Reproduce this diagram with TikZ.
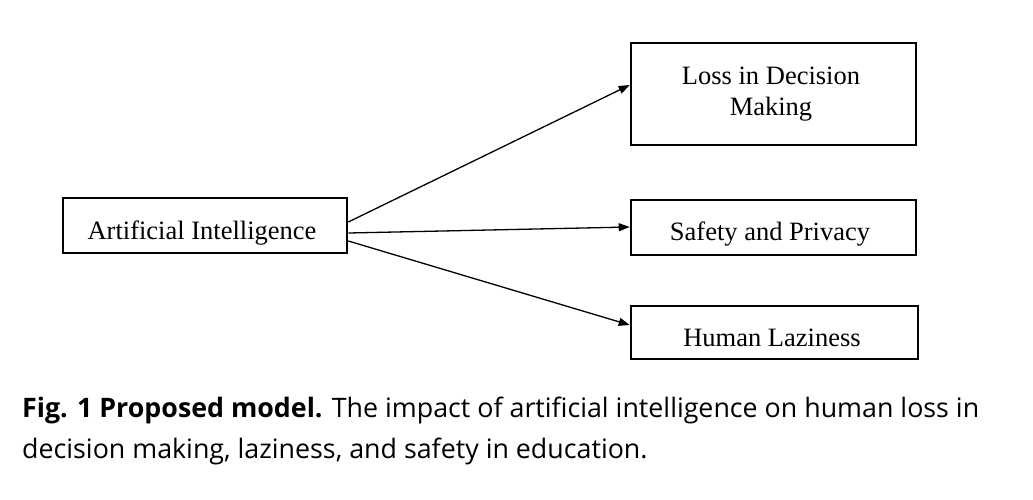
\documentclass[tikz,border=0pt]{standalone}
\usepackage{fontspec}
\setmainfont{Liberation Serif}
\newfontfamily\capfont{Open Sans}
\usetikzlibrary{arrows.meta}
\begin{document}
\begin{tikzpicture}[x=1pt,y=-1pt,
  box/.style={draw,line width=2.6pt,font=\fontsize{26.5}{31}\selectfont,align=center,inner sep=0pt,text depth=0pt},
  arr/.style={line width=1.3pt,-{Triangle[length=11pt,width=8pt]}}]
\useasboundingbox (0,0) rectangle (1033,499);
\node[box,minimum width=284pt,minimum height=55pt] (ai) at (205,225.5) {};
\node[font=\fontsize{26.5}{31}\selectfont] at (202,233) {Artificial Intelligence};
\node[box,minimum width=285pt,minimum height=102pt] (loss) at (773.5,94) {};
\node[font=\fontsize{26.5}{31}\selectfont,align=center] at (771,94) {Loss in Decision\\Making};
\node[box,minimum width=285pt,minimum height=55pt] (safe) at (773.5,227.5) {};
\node[font=\fontsize{26.5}{31}\selectfont] at (770,234) {Safety and Privacy};
\node[box,minimum width=287pt,minimum height=53pt] (lazy) at (774.5,332.5) {};
\node[font=\fontsize{26.5}{31}\selectfont] at (772,338) {Human Laziness};
\draw[arr] (ai.east |- 0,222) -- (loss.west |- 0,85);
\draw[arr] (ai.east |- 0,233) -- (safe.west |- 0,227);
\draw[arr] (ai.east |- 0,241) -- (lazy.west |- 0,325);
\node[anchor=west,inner sep=0pt,font=\capfont\fontsize{26.8}{41}\selectfont,align=left] (cap) at (22,431)
 {\textbf{Fig. 1 Proposed model.} The impact of artificial intelligence on human loss in\\decision making, laziness, and safety in education.};
\end{tikzpicture}
\end{document}
